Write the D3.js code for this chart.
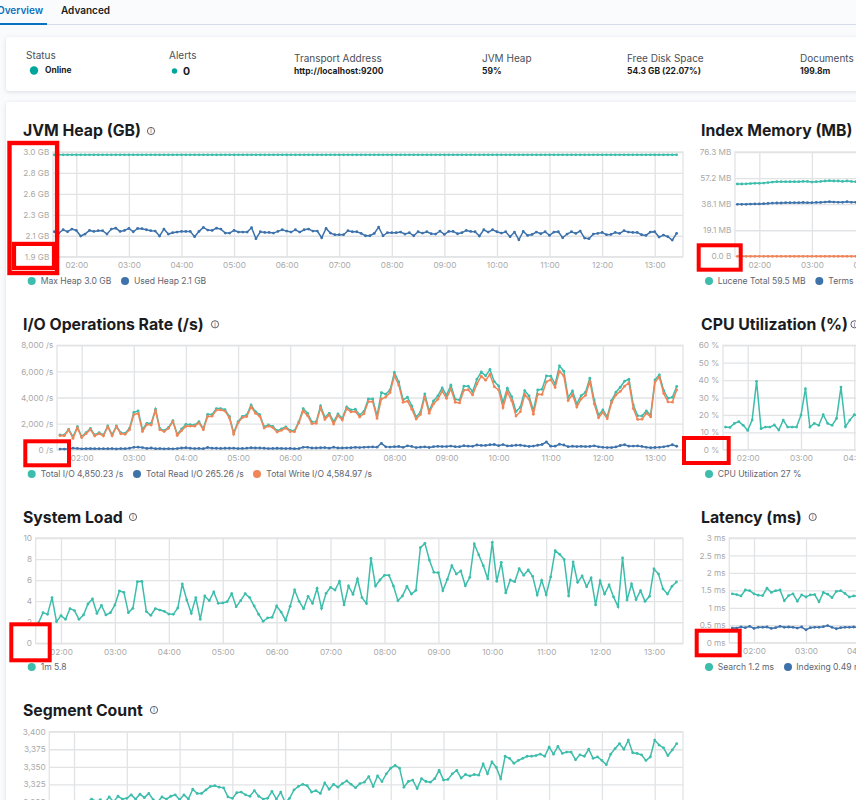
<!DOCTYPE html>
<html><head><meta charset="utf-8">
<script src="https://cdn.jsdelivr.net/npm/d3@7/dist/d3.min.js"></script>
<style>
html,body{margin:0;padding:0;background:#fafbfd;overflow:hidden}
svg{display:block}
text{font-family:Inter,"Noto Sans",sans-serif}
.tick text{fill:#a9a9a9;font-size:8.2px}
.tick line{stroke:#e2e3e5;stroke-width:1.3}
.domain{display:none}
</style></head><body>
<svg id="c" width="856" height="800"></svg>
<script>
// ---------- data ----------
const hours = [120,180,240,300,360,420,480,540,600,660,720,780];
const hourLabels = ["02:00","03:00","04:00","05:00","06:00","07:00","08:00","09:00","10:00","11:00","12:00","13:00"];
const firstMinute = 95, stepMinutes = 5;

const maxHeap = [
2.97,2.97,2.97,2.97,2.97,2.97,2.97,2.97,2.97,2.97,2.97,2.97,
2.97,2.97,2.97,2.97,2.97,2.97,2.97,2.97,2.97,2.97,2.97,2.97,
2.97,2.97,2.97,2.97,2.97,2.97,2.97,2.97,2.97,2.97,2.97,2.97,
2.97,2.97,2.97,2.97,2.97,2.97,2.97,2.97,2.97,2.97,2.97,2.97,
2.97,2.97,2.97,2.97,2.97,2.97,2.97,2.97,2.97,2.97,2.97,2.97,
2.97,2.97,2.97,2.97,2.97,2.97,2.97,2.97,2.97,2.97,2.97,2.97,
2.97,2.97,2.97,2.97,2.97,2.97,2.97,2.97,2.97,2.97,2.97,2.97,
2.97,2.97,2.97,2.97,2.97,2.97,2.97,2.97,2.97,2.97,2.97,2.97,
2.97,2.97,2.97,2.97,2.97,2.97,2.97,2.97,2.97,2.97,2.97,2.97,
2.97,2.97,2.97,2.97,2.97,2.97,2.97,2.97,2.97,2.97,2.97,2.97,
2.97,2.97,2.97,2.97,2.97,2.97,2.97,2.97,2.97,2.97,2.97,2.97,
2.97,2.97,2.97,2.97,2.97,2.97,2.97,2.97,2.97,2.97,2.97];
const usedHeap = [
2.162,2.148,2.183,2.162,2.19,2.176,2.117,2.138,2.176,2.166,2.173,2.173,
2.138,2.19,2.2,2.166,2.176,2.197,2.162,2.197,2.194,2.183,2.173,2.169,
2.117,2.19,2.138,2.152,2.159,2.166,2.166,2.166,2.11,2.166,2.208,2.18,
2.176,2.2,2.19,2.148,2.148,2.176,2.159,2.159,2.159,2.204,2.089,2.162,
2.155,2.155,2.148,2.166,2.183,2.169,2.159,2.183,2.159,2.183,2.19,2.169,
2.169,2.099,2.197,2.148,2.131,2.131,2.131,2.173,2.162,2.162,2.145,2.12,
2.12,2.145,2.211,2.12,2.152,2.152,2.152,2.159,2.138,2.152,2.12,2.162,
2.148,2.162,2.141,2.138,2.169,2.134,2.166,2.166,2.141,2.152,2.176,2.166,
2.162,2.117,2.183,2.159,2.183,2.162,2.148,2.162,2.11,2.159,2.078,2.166,
2.124,2.134,2.159,2.141,2.162,2.124,2.159,2.162,2.099,2.138,2.162,2.145,
2.169,2.096,2.089,2.138,2.145,2.155,2.131,2.134,2.155,2.145,2.173,2.159,
2.155,2.155,2.131,2.124,2.159,2.162,2.106,2.127,2.11,2.075,2.145];
const totalIO = [
1126,1126,1562,998,1766,998,1306,1638,1126,1306,1126,1818,
1152,1818,1306,1254,1638,2867,2970,1562,2022,2022,3098,1613,
1459,1715,2227,1178,1587,1946,1920,1894,2150,1613,2714,2688,
3149,3149,3072,2560,1306,2150,2560,2662,3430,2918,2688,1766,
1894,1792,1459,1587,1741,1485,1459,2150,3149,2790,2125,2150,
3354,2483,2790,2150,2739,2406,3277,3046,3098,2662,2944,3891,
3891,2586,4378,4250,4582,5914,5197,3814,4019,3354,2509,2893,
4275,2970,3738,4122,4736,4173,4941,3866,3814,4864,4864,4454,
5402,5965,5658,6144,5222,4890,3610,4710,4070,2918,3251,4531,
4122,2995,4582,4634,5658,5632,5043,6426,6016,3994,4506,3507,
4147,4403,5478,3814,2662,3046,2534,3763,4403,4787,5248,5402,
3430,2611,2586,2970,2662,5350,5734,4531,3942,4019,4850];
const readIO = [
50,50,50,120,100,70,75,90,75,80,75,80,
85,60,85,75,110,180,190,160,100,130,80,90,
70,75,70,90,130,150,110,90,100,80,170,120,
110,100,110,110,120,90,100,120,150,130,130,110,
90,100,110,100,90,100,80,90,180,180,130,130,
150,160,120,190,130,130,140,150,180,160,180,200,
210,190,490,220,200,230,250,180,300,250,160,190,
220,170,230,260,240,240,280,230,230,310,270,260,
360,330,330,380,400,310,390,290,310,340,340,300,
250,280,340,400,590,270,270,420,360,230,270,240,
260,240,250,300,220,180,160,160,210,320,380,270,
280,290,250,180,150,170,180,220,280,380,265];
const writeIO = [
1076,1076,1512,878,1666,928,1231,1548,1051,1226,1051,1738,
1067,1758,1221,1179,1528,2687,2780,1402,1922,1892,3018,1523,
1389,1640,2157,1088,1457,1796,1810,1804,2050,1533,2544,2568,
3039,3049,2962,2450,1186,2060,2460,2542,3280,2788,2558,1656,
1804,1692,1349,1487,1651,1385,1379,2060,2969,2610,1995,2020,
3204,2323,2670,1960,2609,2276,3137,2896,2918,2502,2764,3691,
3681,2396,3888,4030,4382,5684,4947,3634,3719,3104,2349,2703,
4055,2800,3508,3862,4496,3933,4661,3636,3584,4554,4594,4194,
5042,5635,5328,5764,4822,4580,3220,4420,3760,2578,2911,4231,
3872,2715,4242,4234,5200,5362,4773,6006,5656,3764,4236,3267,
3887,4163,5228,3514,2442,2866,2374,3603,4193,4467,4868,5132,
3150,2321,2336,2790,2512,5180,5554,4311,3662,3639,4585];
const load1m = [
1.96,2.91,2.75,4.34,2.06,2.63,2.28,3.29,3.10,2.28,2.69,3.73,
4.21,2.85,3.61,2.69,2.91,3.64,4.97,4.84,2.91,3.32,5.85,5.89,
3.01,2.66,3.29,3.16,3.04,2.78,2.75,3.35,5.63,4.11,2.85,4.34,
2.28,4.49,4.05,4.87,3.80,3.83,3.96,4.72,3.48,4.05,4.72,4.34,
3.54,2.75,2.09,2.41,2.47,3.54,2.97,2.18,3.51,5.06,3.99,3.29,
4.46,3.80,5.22,3.32,4.75,5.32,5.06,5.89,3.64,5.44,4.65,6.11,
4.34,3.77,8.07,5.44,6.01,6.46,6.46,5.44,4.05,4.49,5.41,4.68,
5.03,9.08,9.49,7.91,6.74,6.71,5.0,6.08,7.37,6.58,6.87,5.47,
6.27,9.43,8.39,7.37,6.11,9.59,5.89,7.69,4.78,6.01,5.85,7.09,
6.46,6.96,6.36,4.59,5.98,4.62,6.30,8.80,8.45,7.97,4.49,7.72,
5.79,6.39,5.38,6.20,3.64,5.92,4.68,5.54,4.40,3.48,8.10,4.11,
5.63,4.15,5.0,3.99,4.46,7.06,6.58,5.16,4.68,5.41,5.82];
const segments = [
3286,3290,3284,3292,3288,3294,3290,3296,3300,
3304,3301,3303,3299,3307,3300,3308,3304,3305,3310,
3304,3311,3306,3312,3303,3300,3307,3304,3308,3310,
3303,3310,3304,3318,3312,3312,3317,3322,3323,3321,
3320,3307,3305,3313,3314,3310,3308,3316,3308,3304,
3305,3315,3304,3314,3299,3305,3317,3322,3325,3323,
3314,3316,3312,3327,3318,3325,3321,3326,3330,
3325,3320,3326,3328,3336,3322,3337,3329,3340,3348,
3352,3348,3321,3329,3331,3319,3333,3329,3328,3333,
3345,3331,3332,3340,3345,3334,3339,3337,3339,3338,
3354,3340,3357,3349,3333,3365,3362,3355,3359,3362,
3365,3365,3366,3368,3365,3378,3368,3379,3369,3371,
3371,3360,3367,3365,3375,3362,3364,3359,3353,3368,
3376,3383,3375,3388,3370,3369,3367,3359,3364,3388,
3381,3377,3366,3374,3383];
const luceneTotal = [52.9,52.9,53.0,53.2,53.4,53.4,53.6,53.9,54.3,54.6,54.6,54.6,54.6,54.6,54.6,54.8,54.8,54.3,54.6,54.8,55.1,55.3,55.1,55.1,54.8,55.1,54.8,54.6,54.6,54.6,54.8];
const termsMem = [38.0,38.0,38.0,38.2,38.3,38.3,38.5,38.7,38.9,39.0,39.0,39.2,39.2,39.2,39.2,39.4,39.2,39.2,39.4,39.4,39.7,39.9,39.7,39.5,39.5,39.9,39.5,39.5,39.4,39.4,39.5];
const pointsMem = [0,0,0,0,0,0,0,0,0,0,0,0,0,0,0,0,0,0,0,0,0,0,0,0,0,0,0,0,0,0,0];
const cpuUtil = [13.0,12.8,15.1,16.1,14.0,11.1,17.0,39.3,12.1,13.0,13.0,14.2,11.3,17.0,13.0,13.0,13.0,19.9,35.1,13.0,15.1,14.0,20.1,15.1,14.0,18.0,36.0,13.2,17.0,20.1,19.0,16.0];
const searchLat = [1.40,1.38,1.34,1.51,1.49,1.40,1.36,1.35,1.56,1.44,1.49,1.51,1.20,1.35,1.40,1.19,1.37,1.31,1.37,1.38,1.17,1.44,1.39,1.29,1.47,1.49,1.41,1.31,1.34,1.33,1.34];
const indexLat = [0.42,0.42,0.45,0.43,0.47,0.41,0.44,0.44,0.45,0.41,0.43,0.47,0.44,0.45,0.44,0.42,0.45,0.37,0.43,0.44,0.44,0.46,0.49,0.44,0.40,0.43,0.44,0.44,0.45,0.44,0.45];

const heapTicks = [1.9,2.12,2.34,2.56,2.78,3.0], heapLabels = ["1.9 GB","2.1 GB","2.3 GB","2.6 GB","2.8 GB","3.0 GB"];
const memTicks = [0,19.075,38.15,57.225,76.3], memLabels = ["0.0 B","19.1 MB","38.1 MB","57.2 MB","76.3 MB"];
const ioTicks = [0,2000,4000,6000,8000], ioLabels = ["0 /s","2,000 /s","4,000 /s","6,000 /s","8,000 /s"];
const cpuTicks = [0,10,20,30,40,50,60], cpuLabels = ["0 %","10 %","20 %","30 %","40 %","50 %","60 %"];
const loadTicks = [0,2,4,6,8,10], loadLabels = ["0","2","4","6","8","10"];
const latTicks = [0,0.5,1,1.5,2,2.5,3], latLabels = ["0 ms","0.5 ms","1 ms","1.5 ms","2 ms","2.5 ms","3 ms"];
const segTicks = [3275,3300,3325,3350,3375,3400], segLabels = ["3,275","3,300","3,325","3,350","3,375","3,400"];

const statLabels = ["Status","Alerts","Transport Address","JVM Heap","Free Disk Space","Documents"];
const statValues = ["Online","0","http://localhost:9200","59%","54.3 GB (22.07%)","199.8m"];

// ---------- styles / layout ----------
const teal="#3dbdab", blue="#3d72ab", orange="#f08558";
const svg=d3.select("#c");

// tabs
svg.append("rect").attr("x",0).attr("y",24).attr("width",856).attr("height",1).attr("fill","#d3dce8");
svg.append("rect").attr("x",0).attr("y",23).attr("width",47).attr("height",2).attr("fill","#0b72c0");
svg.append("text").attr("x",-3).attr("y",14).attr("font-size",10).attr("font-weight",600).attr("fill","#0b72c0").text("Overview");
svg.append("text").attr("x",61).attr("y",14).attr("font-size",10).attr("font-weight",600).attr("fill","#1a1c21").text("Advanced");

// panels
const defs=svg.append("defs");
const f=defs.append("filter").attr("id","sh").attr("x","-5%").attr("y","-20%").attr("width","110%").attr("height","150%");
f.append("feDropShadow").attr("dx",0).attr("dy",1).attr("stdDeviation",2).attr("flood-color","#98a2b3").attr("flood-opacity",.35);
svg.append("rect").attr("x",6).attr("y",37).attr("width",880).attr("height",54).attr("rx",3).attr("fill","#fff").attr("filter","url(#sh)");
svg.append("rect").attr("x",6).attr("y",102).attr("width",880).attr("height",720).attr("rx",3).attr("fill","#fff").attr("filter","url(#sh)");

// stats row
const statLayout=[{x:26,y:59,vx:45,vy:73,vs:8.4},{x:169,y:59,vx:183,vy:75,vs:10.5},{x:294,y:62,vx:294,vy:74,vs:8.5},{x:482,y:62,vx:482,vy:74,vs:8.5},{x:627,y:62,vx:627,vy:74,vs:8.5},{x:800,y:62,vx:800,vy:74,vs:8.5}];
statLabels.forEach((s,i)=>{
  const l=statLayout[i];
  svg.append("text").attr("x",l.x).attr("y",l.y).attr("font-size",10).attr("fill","#4a4f59").text(s);
  svg.append("text").attr("x",l.vx).attr("y",l.vy).attr("font-size",l.vs).attr("font-weight",700).attr("fill","#1a1c21").text(statValues[i]);
});
svg.append("circle").attr("cx",34).attr("cy",70.5).attr("r",4.2).attr("fill","#00a69b");
svg.append("circle").attr("cx",174.5).attr("cy",71).attr("r",2.7).attr("fill","#00a69b");

const charts=[
 {title:"JVM Heap (GB)",tx:23,ty:136,icon:[151,131],l:53,r:683,t:152,b:256.7,x2:76.3,x13:654.7,dom:[1.9,3.0],ticks:heapTicks,labels:heapLabels,
  series:[{d:maxHeap,c:teal},{d:usedHeap,c:blue}],legY:281,leg:[[31.7,40.7,teal,"Max Heap 3.0 GB"],[125,134,blue,"Used Heap 2.1 GB"]]},
 {title:"Index Memory (MB)",tx:701,ty:136,icon:null,l:735,r:1220,t:152,b:256.3,x2:759.3,x13:1338,dom:[0,76.3],ticks:memTicks,labels:memLabels,
  series:[{d:luceneTotal,c:teal},{d:termsMem,c:blue},{d:pointsMem,c:orange}],legY:281,leg:[[709,717.7,teal,"Lucene Total 59.5 MB"],[819.3,828.3,blue,"Terms 41.9 MB"]]},
 {title:"I/O Operations Rate (/s)",tx:23,ty:330,icon:[215,324.3],l:57,r:683,t:345.3,b:449.7,x2:81.7,x13:655,dom:[0,8000],ticks:ioTicks,labels:ioLabels,
  series:[{d:totalIO,c:teal},{d:readIO,c:blue},{d:writeIO,c:orange}],legY:474,leg:[[31.7,40.7,teal,"Total I/O 4,850.23 /s"],[137,146,blue,"Total Read I/O 265.26 /s"],[257,266.3,orange,"Total Write I/O 4,584.97 /s"]]},
 {title:"CPU Utilization (%)",tx:701,ty:330,icon:[854.5,324.3],l:723,r:1220,t:345.3,b:449.7,x2:747.7,x13:1334,dom:[0,60],ticks:cpuTicks,labels:cpuLabels,
  series:[{d:cpuUtil,c:teal}],legY:474,leg:[[709,717.7,teal,"CPU Utilization 27 %"]]},
 {title:"System Load",tx:23,ty:523,icon:[133,517],l:35.7,r:683,t:538,b:643.3,x2:61,x13:654,dom:[0,10],ticks:loadTicks,labels:loadLabels,
  series:[{d:load1m,c:teal}],legY:667,leg:[[31.7,40.7,teal,"1m 5.8"]]},
 {title:"Latency (ms)",tx:701,ty:523,icon:[812.7,517],l:729.3,r:1220,t:538,b:642.7,x2:754,x13:1326,dom:[0,3],ticks:latTicks,labels:latLabels,
  series:[{d:searchLat,c:teal},{d:indexLat,c:blue}],legY:667,leg:[[709,717.7,teal,"Search 1.2 ms"],[788,796.3,blue,"Indexing 0.49 ms"]]},
 {title:"Segment Count",tx:23,ty:716,icon:[154,710],l:49.3,r:683,t:731.7,b:819.4,x2:74,x13:654.7,dom:[3275,3400],ticks:segTicks,labels:segLabels,
  series:[{d:segments,c:teal}],legY:null,leg:[]}
];

charts.forEach(c=>{
  const g=svg.append("g");
  g.append("text").attr("x",c.tx).attr("y",c.ty).attr("font-size",15.8).attr("font-weight",650).attr("fill","#1a1c21").text(c.title);
  if(c.icon){
    g.append("circle").attr("cx",c.icon[0]).attr("cy",c.icon[1]).attr("r",3.6).attr("fill","none").attr("stroke","#4a4f59").attr("stroke-width",.9);
    g.append("text").attr("x",c.icon[0]).attr("y",c.icon[1]+2.3).attr("text-anchor","middle").attr("font-size",6).attr("fill","#4a4f59").text("i");
  }
  const x=d3.scaleLinear().domain([120,780]).range([c.x2,c.x13]);
  const y=d3.scaleLinear().domain(c.dom).range([c.b,c.t]);
  const visHours=hours.filter(h=>x(h)>c.l&&x(h)<c.r);
  // vertical grid + time labels
  g.append("g").attr("transform",`translate(0,${c.b})`)
    .call(d3.axisBottom(x).tickValues(visHours).tickSize(-(c.b-c.t)).tickPadding(5.8)
      .tickFormat(h=>hourLabels[hours.indexOf(h)]));
  // horizontal grid + value labels
  g.append("g").attr("transform",`translate(${c.l},0)`)
    .call(d3.axisLeft(y).tickValues(c.ticks).tickSize(-(c.r-c.l)).tickPadding(3.7)
      .tickFormat(v=>c.labels[c.ticks.indexOf(v)]));
  g.append("rect").attr("x",c.l).attr("y",c.t).attr("width",c.r-c.l).attr("height",c.b-c.t).attr("fill","none").attr("stroke","#e2e3e5").attr("stroke-width",1.3);
  // series
  c.series.forEach(s=>{
    const pts=s.d.map((v,i)=>[firstMinute+i*stepMinutes,v]);
    const line=d3.line().x(p=>x(p[0])).y(p=>y(p[1]));
    g.append("path").attr("d",line(pts)).attr("fill","none").attr("stroke",s.c).attr("stroke-width",1.5);
    g.append("g").selectAll("circle").data(pts).join("circle")
      .attr("cx",p=>x(p[0])).attr("cy",p=>y(p[1])).attr("r",1.4).attr("fill",s.c);
  });
  // legend
  c.leg.forEach(l=>{
    g.append("circle").attr("cx",l[0]).attr("cy",c.legY).attr("r",4).attr("fill",l[2]);
    g.append("text").attr("x",l[1]).attr("y",c.legY+3.1).attr("font-size",8.55).attr("fill","#5e6570").text(l[3]);
  });
});

// red annotation boxes
const boxes=[[9.5,143,47.6,130,4.4],[14,243.9,40,24,4.2],[698.7,245.3,42,24.4,4],[25.3,441.3,43.7,24,4],[684,438,44.7,25,4],[11.3,624.3,38.4,36,4],[696.7,630.7,43,24.6,4]];
svg.append("g").selectAll("rect").data(boxes).join("rect")
  .attr("x",b=>b[0]).attr("y",b=>b[1]).attr("width",b=>b[2]).attr("height",b=>b[3])
  .attr("fill","none").attr("stroke","#ff0000").attr("stroke-width",b=>b[4]);
</script>
</body></html>
